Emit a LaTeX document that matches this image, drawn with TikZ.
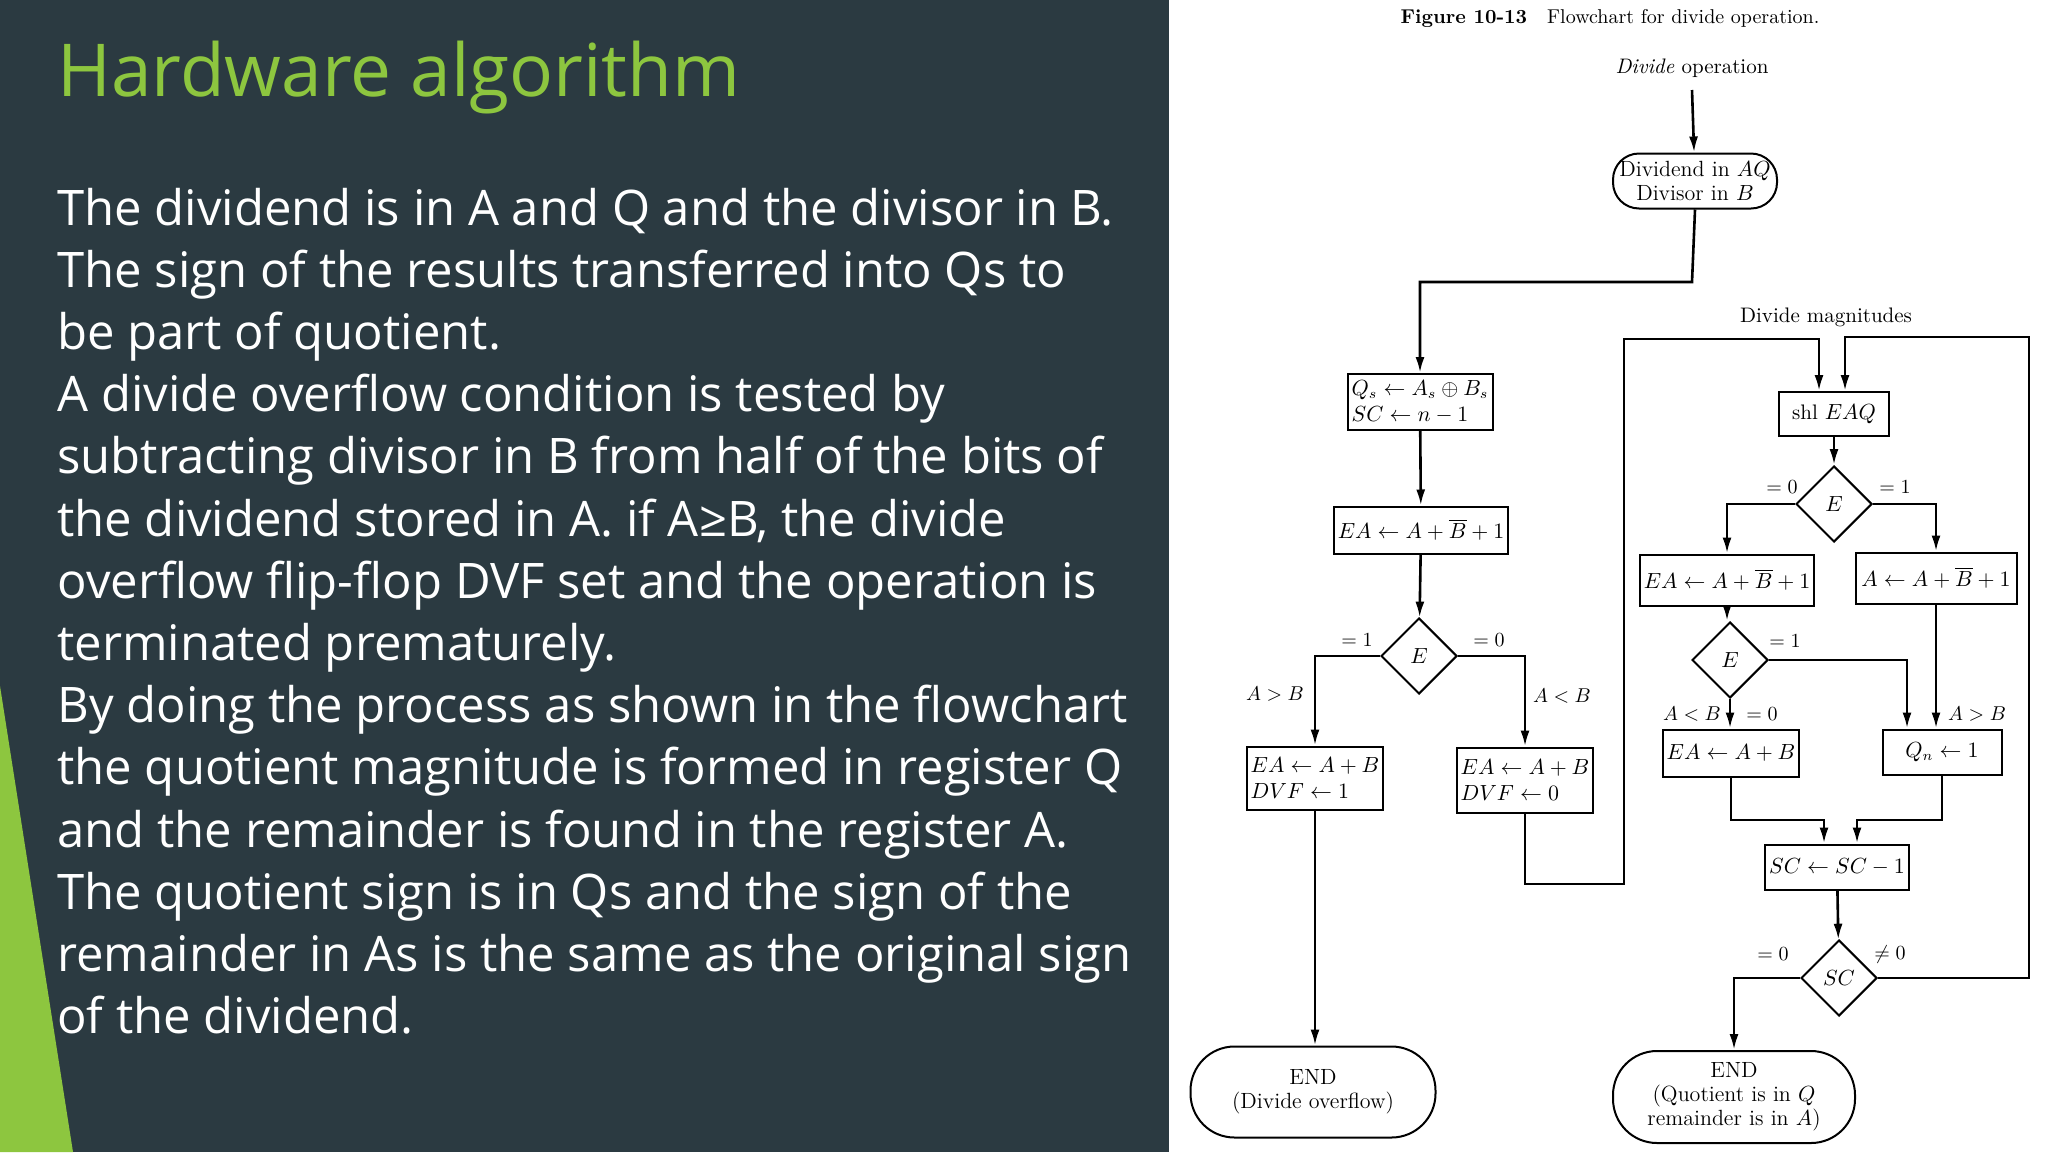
\documentclass[tikz,border=0pt]{standalone}
\usepackage{fontspec}
\newfontfamily\osans{Open Sans}
\usetikzlibrary{shapes.geometric,arrows.meta}
\definecolor{panel}{HTML}{2B3A41}
\definecolor{titlegreen}{HTML}{8DC63F}
\begin{document}
\begin{tikzpicture}[x=0.5pt,y=-0.5pt,
  line/.style={line width=1.3pt},
  arr/.style={line width=1.3pt,-{Latex[length=8pt,width=4.5pt]}},
  box/.style={draw,line width=1pt,inner sep=2pt,align=left,font=\fontsize{10.5}{12}\selectfont},
  term/.style={box,align=center,font=\fontsize{11}{13}\selectfont},
  dia/.style={draw,line width=1pt,diamond,aspect=1,minimum width=38pt,minimum height=38pt,inner sep=0pt,font=\fontsize{10.5}{12}\selectfont},
  lab/.style={font=\fontsize{10}{12}\selectfont,inner sep=1pt},
  body/.style={anchor=base west,text=white,font=\osans\fontsize{24.5}{28}\selectfont,inner sep=0pt}]
\useasboundingbox (0,0) rectangle (2048,1152);
\fill[white] (0,0) rectangle (2048,1152);
\fill[panel] (0,0) rectangle (1169,1152);
\fill[titlegreen] (0,686) -- (73,1152) -- (0,1152) -- cycle;
\node[anchor=base west,text=titlegreen,font=\osans\fontsize{36.5}{40}\selectfont,inner sep=0pt] (title) at (57,96) {Hardware algorithm};
\foreach \t [count=\i from 0] in {
 {The dividend is in A and Q and the divisor in B.},
 {The sign of the results transferred into Qs to},
 {be part of quotient.},
 {A divide overflow condition is tested by},
 {subtracting divisor in B from half of the bits of},
 {the dividend stored in A. if A≥B, the divide},
 {overflow flip-flop DVF set and the operation is},
 {terminated prematurely.},
 {By doing the process as shown in the flowchart},
 {the quotient magnitude is formed in register Q},
 {and the remainder is found in the register A.},
 {The quotient sign is in Qs and the sign of the},
 {remainder in As is the same as the original sign},
 {of the dividend.}}
 \node[body] (line\i) at (57,{225+62.2*\i}) {\t};
% flowchart
\node[font=\fontsize{10}{12}\selectfont] (fig) at (1610,18) {\textbf{Figure 10-13}\quad Flowchart for divide operation.};
\node[lab,font=\fontsize{10.5}{12}\selectfont] (divop) at (1692,68) {\textit{Divide} operation};
\coordinate (top) at (1692,90);
\node[term,rounded corners=13pt,minimum width=82pt,minimum height=27.5pt] (start) at (1695,181) {Dividend in $AQ$\\[-1pt]Divisor in $B$};
\node[box,minimum width=72.5pt,minimum height=28pt] (qs) at (1420,402) {$Q_s\leftarrow A_s\oplus B_s$\\[1pt]$SC\leftarrow n-1$};
\node[box,minimum width=84pt,minimum height=23.5pt,align=center] (ea1) at (1421,530) {$EA\leftarrow A+\overline{B}+1$};
\node[dia] (d1) at (1419,656) {$E$};
\node[box,minimum width=64pt,minimum height=31.5pt] (ovf) at (1315,778) {$EA\leftarrow A+B$\\[1pt]$DVF\leftarrow 1$};
\node[box,minimum width=66pt,minimum height=32.5pt] (nov) at (1525,780) {$EA\leftarrow A+B$\\[1pt]$DVF\leftarrow 0$};
\node[term,rounded corners=22pt,minimum width=122.5pt,minimum height=45.5pt] (end1) at (1313,1092) {END\\[-1pt](Divide overflow)};
\node[lab,font=\fontsize{10.5}{12}\selectfont] (dm) at (1826,317) {Divide magnitudes};
\node[box,minimum width=55pt,minimum height=22pt,align=center] (shl) at (1834,414) {shl $EAQ$};
\node[dia] (d2) at (1834,504) {$E$};
\node[box,minimum width=81pt,minimum height=25.5pt,align=center] (ea2) at (1727,580) {$EA\leftarrow A+\overline{B}+1$};
\node[box,minimum width=80.5pt,minimum height=25.5pt,align=center] (aa) at (1936,578) {$A\leftarrow A+\overline{B}+1$};
\node[dia] (d3) at (1730,660) {$E$};
\node[box,minimum width=60pt,minimum height=23.5pt,align=center] (ea3) at (1731,753) {$EA\leftarrow A+B$};
\node[box,minimum width=59.5pt,minimum height=22.5pt,align=center] (qn) at (1942,752) {$Q_n\leftarrow 1$};
\node[box,minimum width=70pt,minimum height=22.5pt,align=center] (scm) at (1837,867) {$SC\leftarrow SC-1$};
\node[dia] (d4) at (1839,978) {$SC$};
\node[term,rounded corners=22pt,minimum width=121pt,minimum height=46pt] (end2) at (1734,1097) {END\\[-1pt](Quotient is in $Q$\\[-1pt]remainder is in $A$)};
% labels
\node[lab] (l1) at (1357,640) {$=1$};
\node[lab] (l2) at (1489,640) {$=0$};
\node[lab] (l3) at (1275,694) {$A>B$};
\node[lab] (l4) at (1562,696) {$A<B$};
\node[lab] (l5) at (1782,487) {$=0$};
\node[lab] (l6) at (1895,487) {$=1$};
\node[lab] (l7) at (1785,641) {$=1$};
\node[lab] (l8) at (1692,714) {$A<B$};
\node[lab] (l9) at (1762,714) {$=0$};
\node[lab] (l10) at (1977,714) {$A>B$};
\node[lab] (l11) at (1773,954) {$=0$};
\node[lab] (l12) at (1890,954) {$\neq0$};
% connectors
\draw[arr] (top) -- (start);
\draw[arr] (start.south) -- (1692,282) -| (qs.north);
\draw[arr] (qs) -- (ea1);
\draw[arr] (ea1) -- (d1);
\draw[arr] (d1.west) -| (ovf.north);
\draw[arr] (d1.east) -| (nov.north);
\draw[arr] (ovf.south) -- (ovf.south |- end1.north);
\draw[arr] (nov.south) |- (1624,884) -- (1624,339) -| ([xshift=-7.5pt]shl.north);
\draw[arr] (d4.east) -| (2029,337) -| ([xshift=5.5pt]shl.north);
\draw[arr] (shl) -- (d2);
\draw[arr] (d2.west) -| (ea2.north);
\draw[arr] (d2.east) -| (aa.north);
\draw[arr] (ea2.south) -- (ea2.south |- d3.north);
\draw[arr] (d3.east) -| ([xshift=-17.5pt]qn.north);
\draw[arr] (aa.south) -- (aa.south |- qn.north);
\draw[arr] (d3.south) -- (d3.south |- ea3.north);
\draw[arr] (ea3.south) |- (1800,820) -| ([xshift=-6.5pt]scm.north);
\draw[arr] (qn.south) |- (1870,820) -| ([xshift=10pt]scm.north);
\draw[arr] (scm) -- (d4);
\draw[arr] (d4.west) -| (end2.north);
\end{tikzpicture}
\end{document}
